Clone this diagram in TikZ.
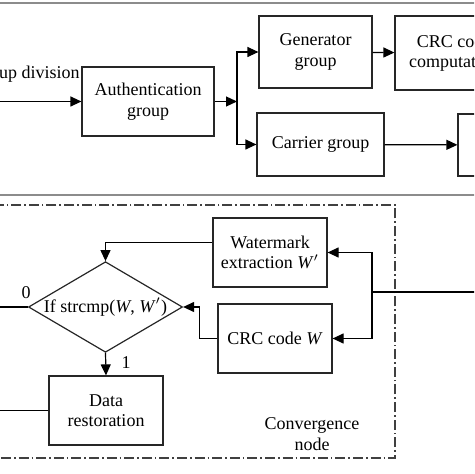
\documentclass[tikz,border=0pt]{standalone}
\usepackage{fontspec}
\setmainfont{Liberation Serif}
\usetikzlibrary{arrows.meta,shapes.geometric}

\begin{document}
\begin{tikzpicture}[x=0.5pt,y=-0.5pt,
	every node/.style={font=\fontsize{9}{10.3}\selectfont},
	box/.style={draw=black!85,line width=0.6pt,rectangle,inner sep=0pt,align=center},
	arr/.style={-{Triangle[length=5.5pt,width=5pt]},line width=0.6pt},
	ln/.style={line width=0.6pt},
	sep/.style={draw=black!45,line width=1.1pt}]
	\useasboundingbox (0,0) rectangle (474,474);
	\clip (0,0) rectangle (474,474);
	
	% separators
	\draw[sep] (-10,3) -- (484,3);
	\draw[sep] (-10,195) -- (484,195);
	
	% upper part
	\node[box,minimum width=66pt,minimum height=34.5pt] (auth) at (148,101.5) {Authentication\\group};
	\node[box,minimum width=56.5pt,minimum height=36pt] (gen) at (315.5,52) {Generator\\group};
	\node[box,minimum width=59pt,minimum height=37pt] (crc) at (454,53) {CRC code\\computation};
	\node[box,minimum width=63.5pt,minimum height=31.5pt] (carr) at (320.5,144.5) {Carrier group};
	\node[box,minimum width=60pt,minimum height=31pt] (emb) at (518,145) {};
	\node[anchor=base east,inner sep=0pt] (div) at (80,79) {Group division};
	
	\coordinate (in) at (-20,101.5);
	\coordinate (fork) at (237,101.5);
	\draw[arr] (in) -- (auth);
	\draw[arr] (auth) -- (fork);
	\draw[arr] (fork) |- (gen);
	\draw[arr] (fork) |- (carr);
	\draw[arr] (gen) -- (crc);
	\draw[arr] (carr) -- (emb);
	
	% convergence node
	\draw[black!75,line width=0.6pt,dash pattern=on 5pt off 1.5pt on 0.8pt off 1.5pt] (-10,205) rectangle (395,458);
	\node[box,minimum width=57pt,minimum height=34.5pt] (wm) at (270,252.5) {Watermark\\extraction \textit{W}$'$};
	\node[box,minimum width=57pt,minimum height=34.5pt] (crcw) at (275,338.5) {CRC code \textit{W}};
	\node[draw=black!85,line width=0.6pt,diamond,aspect=1.7,inner sep=0pt,minimum width=71.5pt,minimum height=42pt] (cmp) at (105.5,307) {If strcmp(\textit{W}, \textit{W}$'$)};
	\node[box,minimum width=57pt,minimum height=34.5pt] (dat) at (106,410.5) {Data\\restoration};
	\node (conv) at (312,434) [align=center] {Convergence\\node};
	\node (zero) at (26,293) {0};
	\node (one) at (126,363) {1};
	
	\coordinate (src) at (484,292);
	\coordinate (split) at (372,292);
	\coordinate (no) at (-10,307);
	\coordinate (out) at (-10,410.5);
	\draw[ln] (src) -- (split);
	\draw[arr] (split) |- (wm.east);
	\draw[arr] (split) |- (crcw.east);
	\draw[arr] ([yshift=5pt]wm.west) -| (cmp.north);
	\draw[arr] (crcw.west) -- ++(-18,0) |- (cmp.east);
	\draw[arr] (cmp.south) -- (dat.north);
	\draw[ln] (cmp.west) -- (no);
	\draw[ln] (dat.west) -- (out);
\end{tikzpicture}
\end{document}
